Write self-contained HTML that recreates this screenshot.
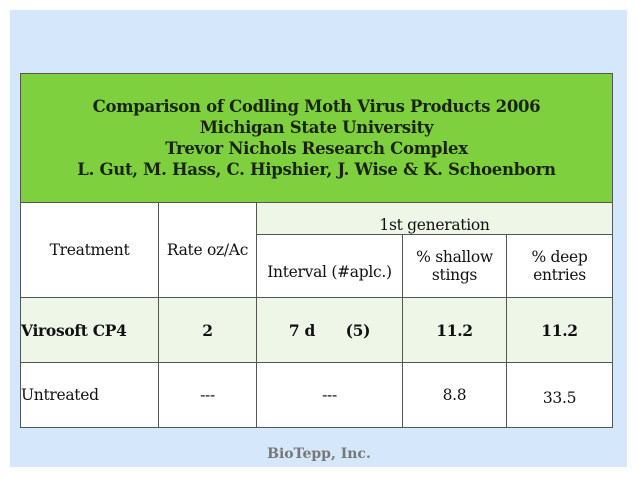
<!DOCTYPE html>
<html><head><meta charset="utf-8"><style>
body{margin:0;width:638px;height:478px;background:#fff;position:relative;overflow:hidden;font-family:"DejaVu Serif","Liberation Serif",serif;}
#panel{position:absolute;left:10px;top:10px;width:617px;height:457px;background:#d5e8fb;}
table{position:absolute;left:20px;top:73px;width:593px;border-collapse:collapse;background:#fff;}
td{border:1.5px solid #555;text-align:center;font-size:15.5px;color:#111;padding:0;letter-spacing:-0.3px;}
.title{background:#7ed03e;height:128px;font-weight:bold;font-size:16.5px;line-height:21px;color:#1a2410;}
.lg{background:#eef6e8;}
.b{font-weight:bold;}
#footer{position:absolute;left:0;width:638px;top:446px;text-align:center;font-weight:bold;font-size:14px;color:#777;}
</style></head><body>
<div id="panel"></div>
<table>
<tr><td colspan="5" class="title">Comparison of Codling Moth Virus Products 2006<br>Michigan State University<br>Trevor Nichols Research Complex<br>L. Gut, M. Hass, C. Hipshier, J. Wise &amp; K. Schoenborn</td></tr>
<tr style="height:32px"><td rowspan="2" style="width:137px">Treatment</td><td rowspan="2" style="width:97px">Rate oz/Ac</td><td colspan="3" class="lg" style="vertical-align:bottom">1st generation</td></tr>
<tr style="height:63px"><td style="width:145px;padding-top:12px">Interval (#aplc.)</td><td style="width:103px">% shallow<br>stings</td><td>% deep<br>entries</td></tr>
<tr style="height:65px" class="lg b"><td style="text-align:left">Virosoft CP4</td><td>2</td><td>7 d &nbsp;&nbsp;&nbsp;&nbsp;&nbsp;(5)</td><td>11.2</td><td>11.2</td></tr>
<tr style="height:65px"><td style="text-align:left">Untreated</td><td>---</td><td>---</td><td>8.8</td><td style="padding-top:6px">33.5</td></tr>
</table>
<div id="footer">BioTepp, Inc.</div>
</body></html>
